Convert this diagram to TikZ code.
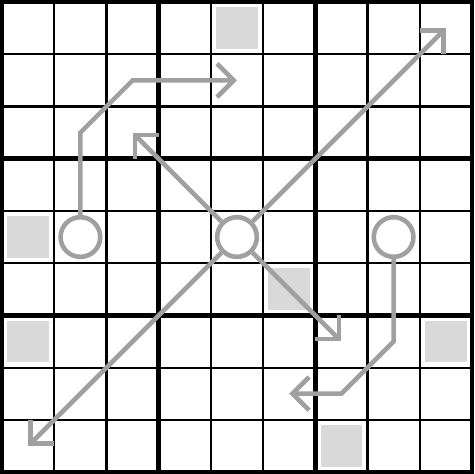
\documentclass[tikz,border=0pt]{standalone}
\usetikzlibrary{arrows.meta}
\definecolor{movegray}{HTML}{A0A0A0}
\definecolor{markgray}{HTML}{D9D9D9}
\tikzset{
  marked/.style={fill=markgray, draw=none},
  thingrid/.style={line width=1.1pt},
  boxgrid/.style={line width=2.5pt, line cap=rect},
  piece/.style={circle, draw=movegray, fill=white, line width=2.5pt, minimum size=0.76cm, inner sep=0pt},
  move/.style={draw=movegray, line width=2.5pt, line join=miter, -{Straight Barb[length=3.2mm, width=6.4mm]}},
}

\begin{document}
\begin{tikzpicture}[y=-1cm]
  \useasboundingbox (-0.04,-0.04) rectangle (9.04,9.04);
  % shaded cells
  \foreach \c/\r in {4/0, 0/4, 5/5, 0/6, 8/6, 6/8}
    \fill[marked] (\c+0.1,\r+0.1) rectangle (\c+0.9,\r+0.9);
  % grid
  \foreach \i in {1,2,4,5,7,8}
    \draw[thingrid] (\i,0) -- (\i,9) (0,\i) -- (9,\i);
  \foreach \i in {0,3,6,9}
    \draw[boxgrid] (\i,0) -- (\i,9) (0,\i) -- (9,\i);

  \node[piece] (left) at (1.5,4.5) {};
  \node[piece] (mid) at (4.5,4.5) {};
  \node[piece] (right) at (7.5,4.5) {};

  \coordinate (nw) at (2.5,2.5);
  \coordinate (ne) at (8.5,0.5);
  \coordinate (sw) at (0.5,8.5);
  \coordinate (se) at (6.5,6.5);
  \coordinate (leftbend) at (1.5,2.5);
  \coordinate (leftturn) at (2.5,1.5);
  \coordinate (lefttip) at (4.5,1.5);
  \coordinate (rightbend) at (7.5,6.5);
  \coordinate (rightturn) at (6.5,7.5);
  \coordinate (righttip) at (5.5,7.5);

  \draw[move] (mid) -- (nw);
  \draw[move] (mid) -- (ne);
  \draw[move] (mid) -- (sw);
  \draw[move] (mid) -- (se);
  \draw[move] (left) -- (leftbend) -- (leftturn) -- (lefttip);
  \draw[move] (right) -- (rightbend) -- (rightturn) -- (righttip);
\end{tikzpicture}
\end{document}
